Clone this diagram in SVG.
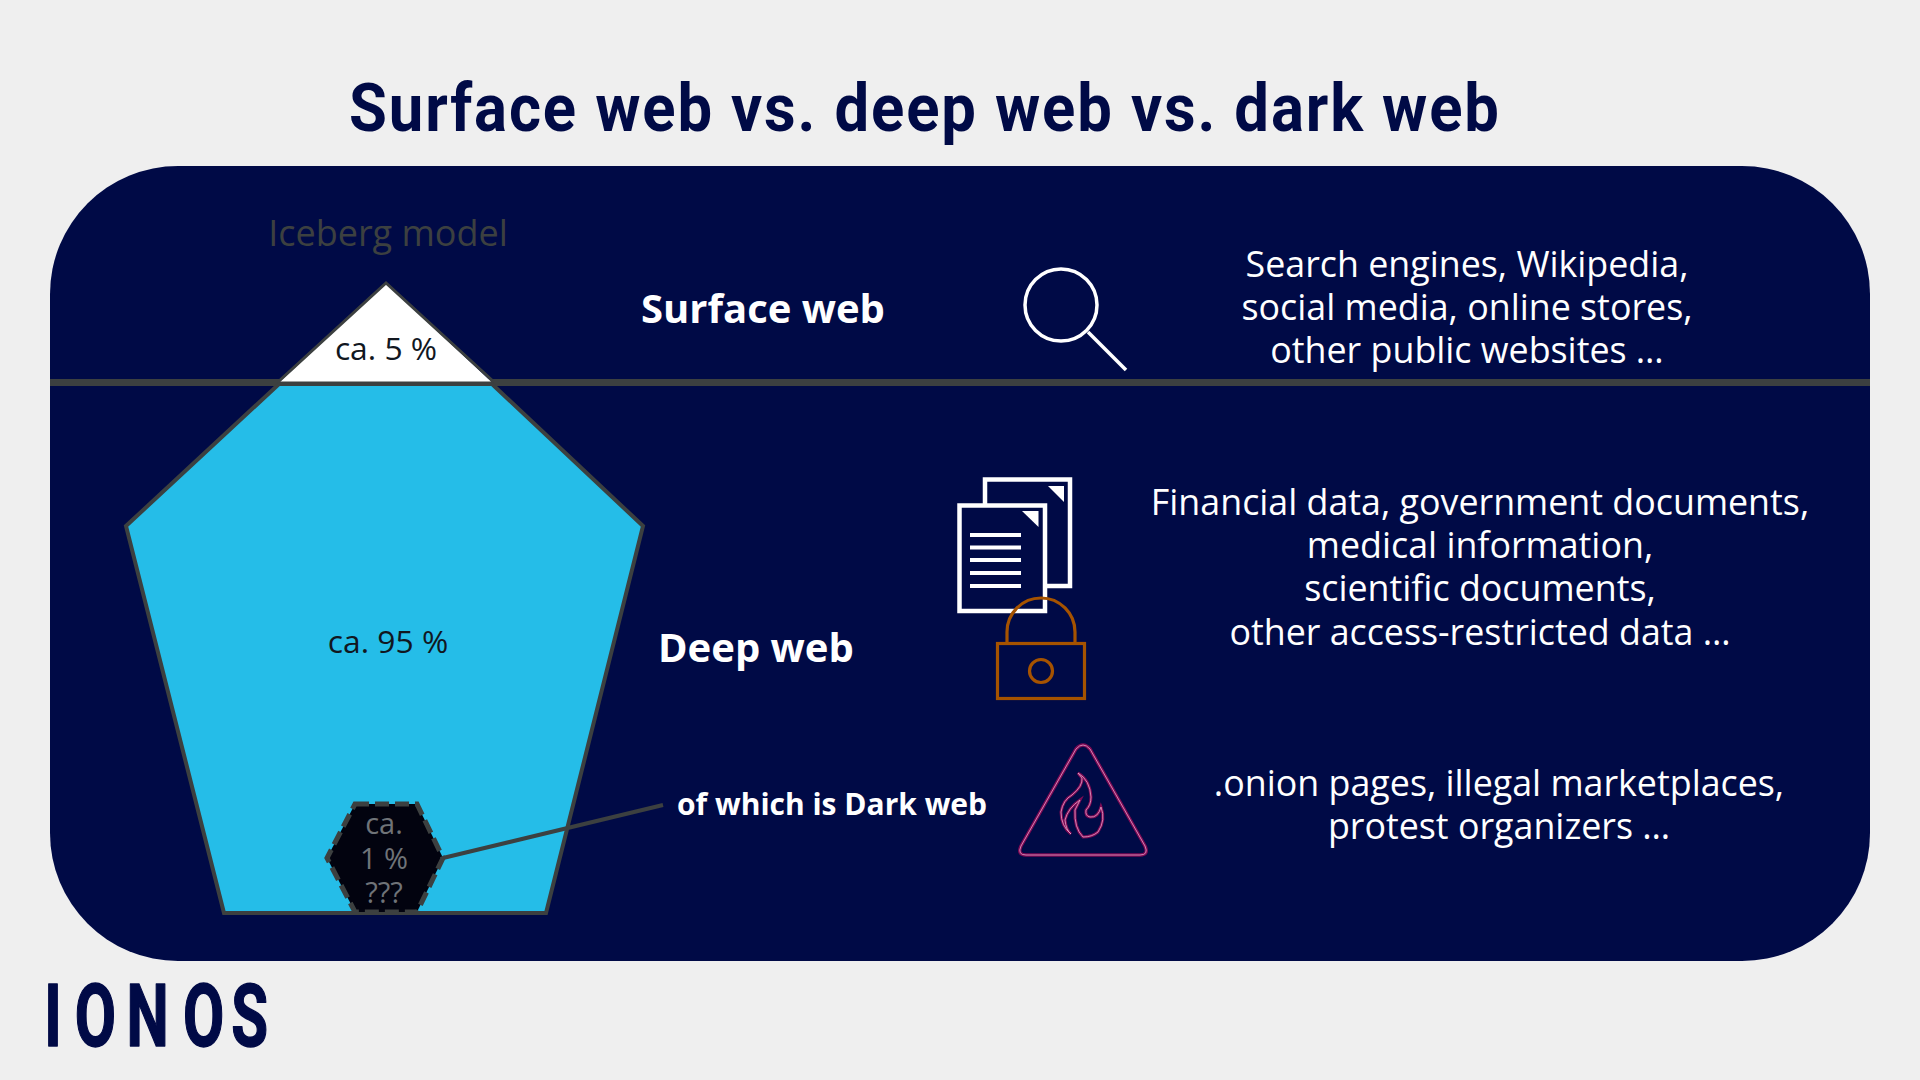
<svg xmlns="http://www.w3.org/2000/svg" width="1920" height="1080" viewBox="0 0 1920 1080">
<style>
text{font-family:"Open Sans","Noto Sans",sans-serif}
.body{font-size:35.800px;fill:#fff;text-anchor:middle}
.head{font-size:40px;font-weight:700;fill:#fff}
.pct{font-size:31.800px;fill:#11171f;text-anchor:middle}
.hex{font-size:29px;fill:#6f7378;text-anchor:middle}
.ic{fill:none;stroke:#fff}
.pg{fill:#000a46;stroke:#fff;stroke-width:4.500}
.lk{fill:none;stroke:#a65300;stroke-width:3.200}
.wo{fill:none;stroke:#7d0a55;stroke-width:3.500}
.wi{fill:none;stroke:#e9a6ca;stroke-width:.8}
</style>
<defs>
<path id="warn-shape" d="M1076 749Q1083 741 1090 749L1145 846Q1149 855 1140 855H1026Q1017 855 1021 846Z"/>
<path id="flame-shape" d="M1078 773Q1090 780 1091 797Q1091 805 1086 810Q1085 816 1090 817Q1098 818 1101 807Q1106 820 1098 832Q1092 837 1083 837Q1074 828 1075 810L1080 800Q1068 808 1065 820Q1066 830 1071 834Q1061 826 1061 812Q1063 800 1072 795Q1083 786 1082 778Z"/>
</defs>
<rect width="1920" height="1080" fill="#efefef"/>
<text id="title" transform="translate(349 131) scale(.92 1)" font-size="67" style="font-family:Roboto,sans-serif;font-weight:700" fill="#000a46" textLength="1250" lengthAdjust="spacing">Surface web vs. deep web vs. dark web</text>
<rect id="panel" x="50" y="166" width="1820" height="795" rx="128" fill="#000a46"/>
<text x="388" y="246" font-size="36" fill="#3c4040" text-anchor="middle">Iceberg model</text>
<g id="waterline"><rect x="50" y="379" width="1820" height="7" fill="#3c4040"/></g>
<g id="deep-berg"><polygon points="279,384 492,384 643,526 546,913 224,913 126,526" fill="#25bde8" stroke="#3c4040" stroke-width="4"/><text class="pct" x="388" y="653">ca. 95 %</text></g>
<g id="tip"><polygon points="386,283 491,381.500 280,381.500" fill="#fff"/><polyline points="278,382 386,283 494,382" fill="none" stroke="#3c4040" stroke-width="3"/><text class="pct" x="386" y="360">ca. 5 %</text></g>
<g id="dark-berg"><polygon points="355,804 417,804 443,858 417,912 355,912 327,858" fill="#02030f" stroke="#3c4040" stroke-width="5" stroke-dasharray="14 6"/><text class="hex" x="384" y="834">ca.</text><text class="hex" x="384" y="869">1 %</text><text class="hex" x="384" y="903">???</text></g>
<g id="connectors"><line x1="443" y1="858" x2="663" y2="805" stroke="#3c4040" stroke-width="4"/></g>
<g id="surface"><text class="head" x="641" y="323">Surface web</text>
<circle class="ic" cx="1061" cy="305" r="36" stroke-width="3.500"/><line class="ic" x1="1088" y1="332" x2="1126" y2="370" stroke-width="3.500"/>
<text class="body" x="1467" y="277">Search engines, Wikipedia,</text><text class="body" x="1467" y="320">social media, online stores,</text><text class="body" x="1467" y="363">other public websites …</text></g>
<g id="deep"><text class="head" x="658" y="662">Deep web</text>
<rect class="pg" x="985" y="479.500" width="85" height="106.500"/><polygon points="1048,486 1064,486 1064,502" fill="#fff"/>
<rect class="pg" x="959.500" y="505.500" width="85.500" height="105.500"/><polygon points="1022,511 1038.500,511 1038.500,527" fill="#fff"/>
<path d="M970 535H1021M970 547.500H1021M970 560H1021M970 573H1021M970 586H1021" stroke="#fff" stroke-width="4" fill="none"/>
<rect class="lk" x="997.500" y="643.500" width="87" height="55"/><path class="lk" d="M1007 643V632A34 34 0 0 1 1075 632V643"/><circle class="lk" cx="1041" cy="671" r="11.500"/>
<text class="body" x="1480" y="515">Financial data, government documents,</text><text class="body" x="1480" y="558">medical information,</text><text class="body" x="1480" y="601">scientific documents,</text><text class="body" x="1480" y="645">other access-restricted data …</text></g>
<g id="dark"><text x="677" y="815" font-size="30" font-weight="700" fill="#fff">of which is Dark web</text>
<use href="#warn-shape" class="wo"/><use href="#warn-shape" class="wi"/>
<use href="#flame-shape" class="wo" style="stroke-width:3"/><use href="#flame-shape" class="wi"/>
<text class="body" x="1499" y="796">.onion pages, illegal marketplaces,</text><text class="body" x="1499" y="839">protest organizers …</text></g>
<g id="logo"><text transform="translate(47 1046) scale(.68 1)" font-size="88" style="font-family:Roboto,sans-serif;font-weight:700" fill="#000a46" stroke="#000a46" stroke-width="1.500" stroke-linejoin="round" x="-4 41 117 200 271">IONOS</text></g>
</svg>
